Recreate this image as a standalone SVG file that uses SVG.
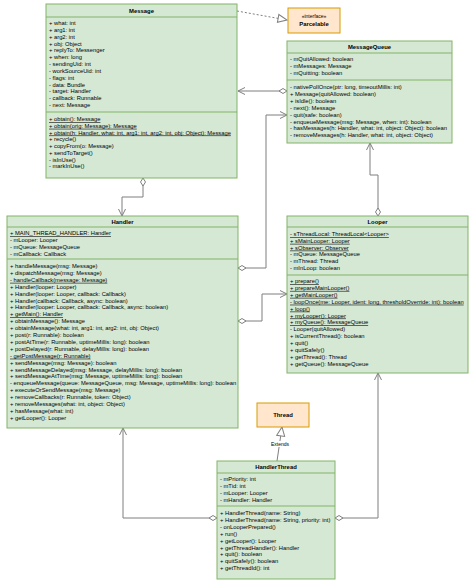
<svg xmlns="http://www.w3.org/2000/svg" width="474" height="583" viewBox="0 0 474 583">
<style>
.box{fill:#d5e8d4;stroke:#82b366;stroke-width:1}
.obox{fill:#ffe6cc;stroke:#d79b00;stroke-width:1}
.sep{stroke:#82b366;stroke-width:1}
.t{font-family:"Liberation Sans",Arial,sans-serif;font-size:5.8px;fill:#000}
.b{font-family:"Liberation Sans",Arial,sans-serif;font-size:5.9px;font-weight:bold;fill:#000}
.u{text-decoration:underline}
.c{fill:none;stroke:#7f7f7f;stroke-width:1}
</style>
<defs>
<marker id="arr" markerUnits="userSpaceOnUse" markerWidth="10" markerHeight="10" refX="7" refY="3.5" orient="auto" overflow="visible">
<path d="M0,0 L7,3.5 L0,7" fill="none" stroke="#7f7f7f" stroke-width="1"/>
</marker>
<marker id="dia" markerUnits="userSpaceOnUse" markerWidth="10" markerHeight="6" refX="0" refY="2.5" orient="auto" overflow="visible">
<path d="M0,2.5 L4,0 L8,2.5 L4,5 Z" fill="#fff" stroke="#7f7f7f" stroke-width="1"/>
</marker>
<marker id="tri" markerUnits="userSpaceOnUse" markerWidth="10" markerHeight="10" refX="9" refY="4" orient="auto" overflow="visible">
<path d="M0,0 L9,4 L0,8 Z" fill="#fff" stroke="#7f7f7f" stroke-width="1"/>
</marker>
</defs>

<g id="connectors">
<path class="c" d="M237,11 L287,20" stroke-dasharray="2,2" marker-end="url(#tri)"/>
<path class="c" d="M287,91 L238,91" marker-start="url(#dia)" marker-end="url(#arr)"/>
<path class="c" d="M238,268 L266,268 L266,115 L287,115" marker-start="url(#dia)" marker-end="url(#arr)"/>
<path class="c" d="M238,321 L262,321 L262,294 L287,294" marker-start="url(#dia)" marker-end="url(#arr)"/>
<path class="c" d="M143,178 L143,197 L122,197 L122,216" marker-start="url(#dia)" marker-end="url(#arr)"/>
<path class="c" d="M378,216 L378,175 L370,175 L370,143" marker-start="url(#dia)" marker-end="url(#arr)"/>
<path class="c" d="M217,518 L123,518 L123,428" marker-start="url(#dia)" marker-end="url(#arr)"/>
<path class="c" d="M335,518 L378,518 L378,373" marker-start="url(#dia)" marker-end="url(#arr)"/>
<path class="c" d="M277,461 L282,427" marker-end="url(#tri)"/>
<rect x="268" y="441" width="24" height="6" fill="#fff"/>
<text class="t" x="280" y="446" text-anchor="middle" style="font-size:5px">Extends</text>
</g>

<g id="Message">
<rect class="box" x="46" y="4" width="191" height="174"/>
<line class="sep" x1="46" y1="17" x2="237" y2="17"/>
<line class="sep" x1="46" y1="112" x2="237" y2="112"/>
<text class="b" x="141.5" y="12.5" text-anchor="middle">Message</text>
<text class="t" x="49" y="25">
<tspan x="49" dy="0">+ what: int</tspan>
<tspan x="49" dy="6.85">+ arg1: int</tspan>
<tspan x="49" dy="6.85">+ arg2: int</tspan>
<tspan x="49" dy="6.85">+ obj: Object</tspan>
<tspan x="49" dy="6.85">+ replyTo: Messenger</tspan>
<tspan x="49" dy="6.85">+ when: long</tspan>
<tspan x="49" dy="6.85">- sendingUid: int</tspan>
<tspan x="49" dy="6.85">- workSourceUid: int</tspan>
<tspan x="49" dy="6.85">- flags: int</tspan>
<tspan x="49" dy="6.85">- data: Bundle</tspan>
<tspan x="49" dy="6.85">- target: Handler</tspan>
<tspan x="49" dy="6.85">- callback: Runnable</tspan>
<tspan x="49" dy="6.85">- next: Message</tspan>
</text>
<text class="t" x="49" y="121">
<tspan x="49" dy="0" class="u">+ obtain(): Message</tspan>
<tspan x="49" dy="6.75" class="u">+ obtain(orig: Message): Message</tspan>
<tspan x="49" dy="6.75" class="u">+ obtain(h: Handler, what: int, arg1: int, arg2: int, obj: Object): Message</tspan>
<tspan x="49" dy="6.75">+ recycle()</tspan>
<tspan x="49" dy="6.75">+ copyFrom(o: Message)</tspan>
<tspan x="49" dy="6.75">+ sendToTarget()</tspan>
<tspan x="49" dy="6.75">- isInUse()</tspan>
<tspan x="49" dy="6.75">- markInUse()</tspan>
</text>
</g>

<g id="Parcelable">
<rect class="obox" x="288" y="8" width="52" height="25"/>
<text class="t" x="314" y="18" text-anchor="middle" style="font-size:5px">«interface»</text>
<text class="b" x="314" y="26" text-anchor="middle">Parcelable</text>
</g>

<g id="MessageQueue">
<rect class="box" x="287" y="41" width="165" height="102"/>
<line class="sep" x1="287" y1="53" x2="452" y2="53"/>
<line class="sep" x1="287" y1="80" x2="452" y2="80"/>
<text class="b" x="369.5" y="49" text-anchor="middle">MessageQueue</text>
<text class="t" x="290" y="61">
<tspan x="290" dy="0">- mQuitAllowed: boolean</tspan>
<tspan x="290" dy="7">- mMessages: Message</tspan>
<tspan x="290" dy="7">- mQuitting: boolean</tspan>
</text>
<text class="t" x="290" y="89">
<tspan x="290" dy="0">- nativePollOnce(ptr: long, timeoutMillis: int)</tspan>
<tspan x="290" dy="6.9">+ Message(quitAllowed: boolean)</tspan>
<tspan x="290" dy="6.9">+ isIdle(): boolean</tspan>
<tspan x="290" dy="6.9">- next(): Message</tspan>
<tspan x="290" dy="6.9">- quit(safe: boolean)</tspan>
<tspan x="290" dy="6.9">- enqueueMessage(msg: Message, when: int): boolean</tspan>
<tspan x="290" dy="6.9">- hasMessages(h: Handler, what: int, object: Object): boolean</tspan>
<tspan x="290" dy="6.9">- removeMessages(h: Handler, what: int, object: Object)</tspan>
</text>
</g>

<g id="Handler">
<rect class="box" x="7" y="216" width="231" height="212"/>
<line class="sep" x1="7" y1="227" x2="238" y2="227"/>
<line class="sep" x1="7" y1="259" x2="238" y2="259"/>
<text class="b" x="122.5" y="223.5" text-anchor="middle">Handler</text>
<text class="t" x="10" y="235">
<tspan x="10" dy="0" class="u">+ MAIN_THREAD_HANDLER: Handler</tspan>
<tspan x="10" dy="7">- mLooper: Looper</tspan>
<tspan x="10" dy="7">- mQueue: MessageQueue</tspan>
<tspan x="10" dy="7">- mCallback: Callback</tspan>
</text>
<text class="t" x="10" y="268">
<tspan x="10" dy="0">+ handleMessage(msg: Message)</tspan>
<tspan x="10" dy="6.9">+ dispatchMessage(msg: Message)</tspan>
<tspan x="10" dy="6.9" class="u">- handleCallback(message: Message)</tspan>
<tspan x="10" dy="6.9">+ Handler(looper: Looper)</tspan>
<tspan x="10" dy="6.9">+ Handler(looper: Looper, callback: Callback)</tspan>
<tspan x="10" dy="6.9">+ Handler(callback: Callback, async: boolean)</tspan>
<tspan x="10" dy="6.9">+ Handler(looper: Looper, callback: Callback, async: boolean)</tspan>
<tspan x="10" dy="6.9" class="u">+ getMain(): Handler</tspan>
<tspan x="10" dy="6.9">+ obtainMessage(): Message</tspan>
<tspan x="10" dy="6.9">+ obtainMessage(what: int, arg1: int, arg2: int, obj: Object)</tspan>
<tspan x="10" dy="6.9">+ post(r: Runnable): boolean</tspan>
<tspan x="10" dy="6.9">+ postAtTime(r: Runnable, uptimeMillis: long): boolean</tspan>
<tspan x="10" dy="6.9">+ postDelayed(r: Runnable, delayMillis: long): boolean</tspan>
<tspan x="10" dy="6.9" class="u">- getPostMessage(r: Runnable)</tspan>
<tspan x="10" dy="6.9">+ sendMessage(msg: Message): boolean</tspan>
<tspan x="10" dy="6.9">+ sendMessageDelayed(msg: Message, delayMillis: long): boolean</tspan>
<tspan x="10" dy="6.9">+ sendMessageAtTime(msg: Message, uptimeMillis: long): boolean</tspan>
<tspan x="10" dy="6.9">- enqueueMessage(queue: MessageQueue, msg: Message, uptimeMillis: long): boolean</tspan>
<tspan x="10" dy="6.9">+ executeOrSendMessage(msg: Message)</tspan>
<tspan x="10" dy="6.9">+ removeCallbacks(r: Runnable, token: Object)</tspan>
<tspan x="10" dy="6.9">+ removeMessages(what: int, object: Object)</tspan>
<tspan x="10" dy="6.9">+ hasMessage(what: int)</tspan>
<tspan x="10" dy="6.9">+ getLooper(): Looper</tspan>
</text>
</g>

<g id="Looper">
<rect class="box" x="287" y="216" width="181" height="157"/>
<line class="sep" x1="287" y1="227" x2="468" y2="227"/>
<line class="sep" x1="287" y1="275" x2="468" y2="275"/>
<text class="b" x="377.5" y="223.5" text-anchor="middle">Looper</text>
<text class="t" x="290" y="236">
<tspan x="290" dy="0" class="u">- sThreadLocal: ThreadLocal&lt;Looper&gt;</tspan>
<tspan x="290" dy="6.8" class="u">+ sMainLooper: Looper</tspan>
<tspan x="290" dy="6.8" class="u">+ sObserver: Observer</tspan>
<tspan x="290" dy="6.8">- mQueue: MessageQueue</tspan>
<tspan x="290" dy="6.8">- mThread: Thread</tspan>
<tspan x="290" dy="6.8">- mInLoop: boolean</tspan>
</text>
<text class="t" x="290" y="283">
<tspan x="290" dy="0" class="u">+ prepare()</tspan>
<tspan x="290" dy="6.9" class="u">+ prepareMainLooper()</tspan>
<tspan x="290" dy="6.9" class="u">+ getMainLooper()</tspan>
<tspan x="290" dy="6.9" class="u">- loopOnce(me: Looper, ident: long, thresholdOverride: int): boolean</tspan>
<tspan x="290" dy="6.9" class="u">+ loop()</tspan>
<tspan x="290" dy="6.9" class="u">+ myLooper(): Looper</tspan>
<tspan x="290" dy="6.9" class="u">+ myQueue(): MessageQueue</tspan>
<tspan x="290" dy="6.9">- Looper(quitAllowed)</tspan>
<tspan x="290" dy="6.9">+ isCurrentThread(): boolean</tspan>
<tspan x="290" dy="6.9">+ quit()</tspan>
<tspan x="290" dy="6.9">+ quitSafely()</tspan>
<tspan x="290" dy="6.9">+ getThread(): Thread</tspan>
<tspan x="290" dy="6.9">+ getQueue(): MessageQueue</tspan>
</text>
</g>

<g id="Thread">
<rect class="obox" x="257" y="403" width="52" height="24"/>
<text class="b" x="283" y="417" text-anchor="middle">Thread</text>
</g>

<g id="HandlerThread">
<rect class="box" x="217" y="461" width="118" height="118"/>
<line class="sep" x1="217" y1="473" x2="335" y2="473"/>
<line class="sep" x1="217" y1="506" x2="335" y2="506"/>
<text class="b" x="276" y="469" text-anchor="middle">HandlerThread</text>
<text class="t" x="220" y="481">
<tspan x="220" dy="0">- mPriority: int</tspan>
<tspan x="220" dy="6.9">- mTid: int</tspan>
<tspan x="220" dy="6.9">- mLooper: Looper</tspan>
<tspan x="220" dy="6.9">- mHandler: Handler</tspan>
</text>
<text class="t" x="220" y="515">
<tspan x="220" dy="0">+ HandlerThread(name: String)</tspan>
<tspan x="220" dy="6.9">+ HandlerThread(name: String, priority: int)</tspan>
<tspan x="220" dy="6.9">- onLooperPrepared()</tspan>
<tspan x="220" dy="6.9">+ run()</tspan>
<tspan x="220" dy="6.9">+ getLooper(): Looper</tspan>
<tspan x="220" dy="6.9">+ getThreadHandler(): Handler</tspan>
<tspan x="220" dy="6.9">+ quit(): boolean</tspan>
<tspan x="220" dy="6.9">+ quitSafely(): boolean</tspan>
<tspan x="220" dy="6.9">+ getThreadId(): int</tspan>
</text>
</g>
</svg>
